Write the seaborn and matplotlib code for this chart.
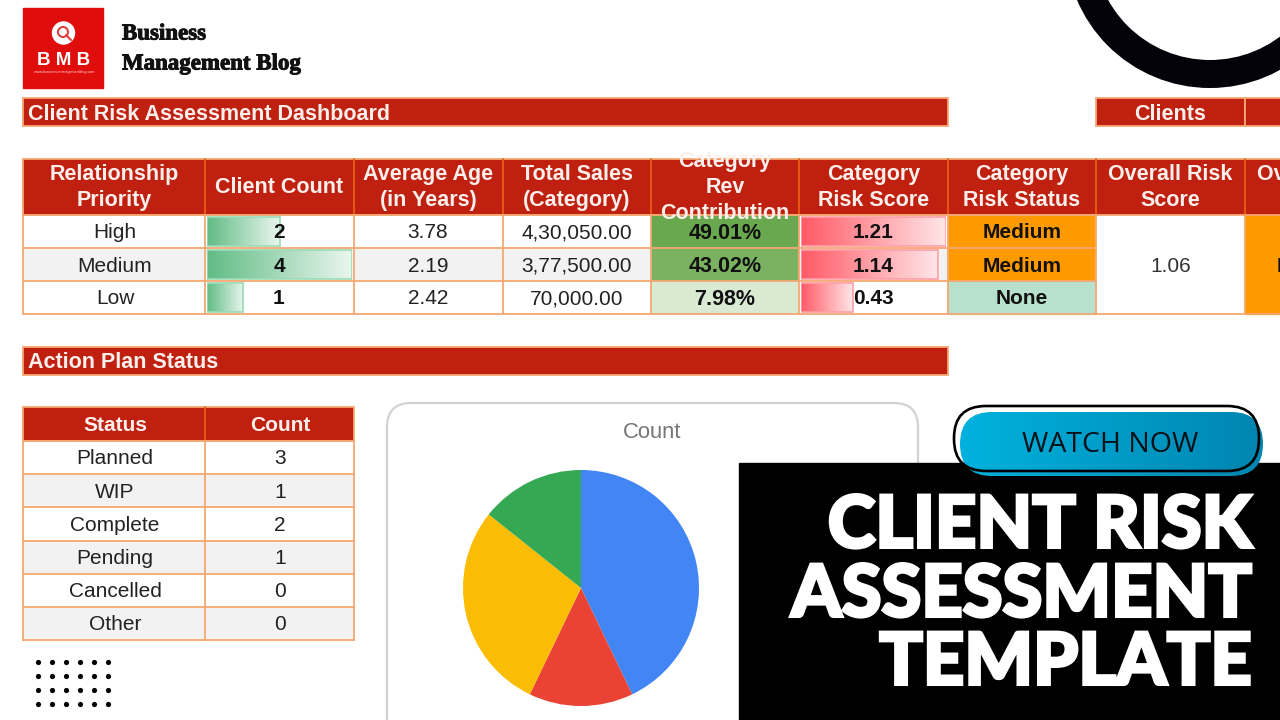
#! /usr/bin/env python3

import matplotlib
matplotlib.use('Agg')

import matplotlib.patheffects as pe
import matplotlib.pyplot as plt
from matplotlib.colors import LinearSegmentedColormap
from matplotlib.patches import Circle, FancyBboxPatch, Rectangle
import numpy as np
import pandas as pd
import seaborn as sns

priorities = ['High', 'Medium', 'Low']
client_counts = [2, 4, 1]
average_ages = ['3.78', '2.19', '2.42']
total_sales = ['4,30,050.00', '3,77,500.00', '70,000.00']
rev_contribution = [49.01, 43.02, 7.98]
risk_scores = [1.21, 1.14, 0.43]
risk_status = ['Medium', 'Medium', 'None']
overall_score = '1.06'
overall_status = 'Medium'

table_headers = ['Relationship\nPriority', 'Client Count', 'Average Age\n(in Years)',
                 'Total Sales\n(Category)', 'Category\nRev\nContribution', 'Category\nRisk Score',
                 'Category\nRisk Status', 'Overall Risk\nScore', 'Overall Risk\nStatus']

plan_status = ['Planned', 'WIP', 'Complete', 'Pending', 'Cancelled', 'Other']
plan_count = [3, 1, 2, 1, 0, 0]
pie_colors = ['#4285F4', '#EA4335', '#FBBC04', '#34A853', '#FF6D01', '#46BDC6']

RED = '#C0200F'
DEEP = '#E8600F'
LINE = '#F6A772'
GREY = '#F2F2F2'
ORANGE = '#FF9900'
MINT = '#B7E1CD'
W, H = 1280, 720
FONT = 'Liberation Sans'

sns.set_theme(style='white')
plt.rcParams['font.family'] = [FONT, 'DejaVu Sans']

fig = plt.figure(figsize=(12.8, 7.2), dpi=100, facecolor='white')


def px_axes(x0, y0, x1, y1, zorder):
    ax = fig.add_axes([x0 / W, 1 - y1 / H, (x1 - x0) / W, (y1 - y0) / H], zorder=zorder)
    ax.patch.set_alpha(0)
    return ax


def data_bars(values, x0, x1, vmax, left_col, right_col, edge):
    ax = px_axes(x0, 215, x1, 314, 1)
    frame = pd.DataFrame({'row': priorities, 'value': values})
    sns.barplot(data=frame, x='value', y='row', ax=ax, width=0.86, color='white')
    cmap = LinearSegmentedColormap.from_list('bar', [left_col, right_col])
    for bar in ax.patches:
        box = bar.get_bbox()
        img = ax.imshow(np.linspace(0, 1, 128)[None, :], cmap=cmap, aspect='auto',
                        extent=(box.x0, box.x1, box.y1, box.y0), zorder=2)
        img.set_clip_path(bar)
        ax.add_patch(Rectangle((box.x0, box.y0), box.width, box.height, fill=False,
                               edgecolor=edge, linewidth=1.2, zorder=3))
    ax.set_xlim(0, vmax)
    ax.set_ylim(2.5, -0.5)
    ax.axis('off')
    return ax


# base layer: cell fills and the card behind the pie
base = px_axes(0, 0, W, H, 0)
base.set_xlim(0, W)
base.set_ylim(H, 0)
base.axis('off')

col_edges = [23, 205, 354, 503, 651, 799, 948, 1096, 1245, 1393]
row_edges = [215, 248, 281, 314]
for r in range(3):
    base.add_patch(Rectangle((23, row_edges[r]), 1222, 33, color=GREY if r == 1 else 'white'))
for r, status in enumerate(risk_status):
    base.add_patch(Rectangle((948, row_edges[r]), 148, 33, color=ORANGE if status == 'Medium' else MINT))
base.add_patch(Rectangle((1096, 215), 149, 99, color='white'))
base.add_patch(Rectangle((1245, 215), 148, 99, color=ORANGE))

plan_edges = [441 + 33.2 * i for i in range(7)]
for r in range(6):
    base.add_patch(Rectangle((23, plan_edges[r]), 331, 33.2, color=GREY if r % 2 else 'white'))

base.add_patch(FancyBboxPatch((387, 403), 531, 400, boxstyle='round,pad=0,rounding_size=24',
                              facecolor='white', edgecolor='#D2D2D2', linewidth=1.6))
base.text(652, 432.5, 'Count', ha='center', va='center', fontsize=15.8, color='#757575')

# data layers
data_bars(client_counts, 207, 352, 4, '#62BC85', '#E9F6EE', '#9ADBB5')
data_bars(risk_scores, 801, 946, 1.21, '#FF5A66', '#FFE6E8', '#FF9DA5')

ax_rev = px_axes(651, 215, 799, 314, 1)
rev_frame = pd.DataFrame({'rev': rev_contribution}, index=priorities)
rev_cmap = LinearSegmentedColormap.from_list('rev', ['#D9EAD3', '#6AA84F'])
rev_labels = np.array([[f'{v:.2f}%'] for v in rev_contribution])
sns.heatmap(rev_frame, ax=ax_rev, cmap=rev_cmap, cbar=False, annot=rev_labels, fmt='',
            annot_kws={'fontsize': 15.5, 'fontweight': 'bold', 'color': '#111111'},
            xticklabels=False, yticklabels=False)
ax_rev.set_ylabel('')
for t in ax_rev.texts:
    t.set_y(t.get_position()[1] + 0.06)
ax_pie = px_axes(463, 470, 699, 706, 1)
ax_pie.pie(plan_count, colors=pie_colors, startangle=90, counterclock=False, radius=1.0,
           wedgeprops={'linewidth': 0})
ax_pie.set_xlim(-1, 1)
ax_pie.set_ylim(-1, 1)

# top layer: bands, header, grid lines, cell text and the banner
top = px_axes(0, 0, W, H, 2)
top.set_xlim(0, W)
top.set_ylim(H, 0)
top.axis('off')


def band(x0, y0, x1, y1, label='', center=False):
    top.add_patch(Rectangle((x0, y0), x1 - x0, y1 - y0, facecolor=RED, edgecolor=LINE, linewidth=1.3))
    if label:
        tx = (x0 + x1) / 2 if center else x0 + 5
        top.text(tx, (y0 + y1) / 2 + 2, label, ha='center' if center else 'left', va='center',
                 fontsize=15.5, fontweight='bold', color='#FBEFEC')


band(23, 98, 948, 126, 'Client Risk Assessment Dashboard')
band(1096, 98, 1245, 126, 'Clients', center=True)
band(1245, 98, 1300, 126)
band(23, 347, 948, 375, 'Action Plan Status')

top.add_patch(Rectangle((23, 159), 1300, 56, facecolor=RED, edgecolor=LINE, linewidth=1.3))
for i, label in enumerate(table_headers):
    x0, x1 = col_edges[i], col_edges[i + 1]
    if i:
        top.plot([x0, x0], [159, 215], color=DEEP, lw=1.3)
    txt = top.text((x0 + x1) / 2, 187.5, label, ha='center', va='center', fontsize=15.5,
                   fontweight='bold', color='#FBEFEC', linespacing=1.34)
    txt.set_clip_path(Rectangle((x0, 159), x1 - x0, 56, transform=top.transData))

for y in row_edges:
    top.plot([23, 1096], [y, y], color=LINE, lw=1.3)
top.plot([1096, 1300], [314, 314], color=LINE, lw=1.3)
for x in col_edges[:-1]:
    top.plot([x, x], [215, 314], color=LINE, lw=1.3)

for r, y in enumerate([233, 266, 299]):
    top.text(115, y, priorities[r], ha='center', va='center', fontsize=15, color='#222222')
    top.text(279, y, str(client_counts[r]), ha='center', va='center', fontsize=15, fontweight='bold', color='#111111')
    top.text(428, y, average_ages[r], ha='center', va='center', fontsize=15, color='#222222')
    top.text(577, y, total_sales[r], ha='center', va='center', fontsize=15, color='#222222')
    top.text(873.5, y, f'{risk_scores[r]:.2f}', ha='center', va='center', fontsize=15, fontweight='bold', color='#111111')
    top.text(1022, y, risk_status[r], ha='center', va='center', fontsize=15, fontweight='bold', color='#111111')
top.text(1171, 266, overall_score, ha='center', va='center', fontsize=15, color='#333333')
top.text(1316, 266, overall_status, ha='center', va='center', fontsize=15, fontweight='bold', color='#111111')

# action plan table
top.add_patch(Rectangle((23, 407), 331, 34, facecolor=RED, edgecolor=LINE, linewidth=1.3))
top.plot([205, 205], [407, 441], color=DEEP, lw=1.3)
top.text(115, 425.5, 'Status', ha='center', va='center', fontsize=15, fontweight='bold', color='#FBEFEC')
top.text(280, 425.5, 'Count', ha='center', va='center', fontsize=15, fontweight='bold', color='#FBEFEC')
for y in plan_edges:
    top.plot([23, 354], [y, y], color=LINE, lw=1.3)
for x in [23, 205, 354]:
    top.plot([x, x], [441, 640], color=LINE, lw=1.3)
for r, status in enumerate(plan_status):
    yc = plan_edges[r] + 18
    top.text(115, yc, status, ha='center', va='center', fontsize=15, color='#222222')
    top.text(280, yc, str(plan_count[r]), ha='center', va='center', fontsize=15, color='#222222')

# logo
top.add_patch(Rectangle((23, 8), 80, 80, color='#E00D0D'))
top.add_patch(Circle((63.5, 33), 11, color='white'))
top.add_patch(Circle((63, 32), 5, facecolor='none', edgecolor='#E04040', linewidth=1.5))
top.plot([66, 71], [35, 40], color='#E04040', lw=1.5)
top.text(64, 60.5, 'B M B', ha='center', va='center', fontsize=13.5, fontweight='bold', color='white')
top.text(64, 72.5, 'www.business-managementblog.com', ha='center', va='center', fontsize=2.6, color='#FFD0D0')
heavy = [pe.withStroke(linewidth=0.7, foreground='#111111')]
top.text(122, 34, 'Business', ha='left', va='center', fontsize=16.5, fontweight='bold',
         family='Liberation Serif', color='#111111', path_effects=heavy)
top.text(122, 64, 'Management Blog', ha='left', va='center', fontsize=16.5, fontweight='bold',
         family='Liberation Serif', color='#111111', path_effects=heavy)

# corner ring
top.add_patch(Circle((1210, -56.5), 130.5, fill=False, edgecolor='#020208', linewidth=28 * 72 / 100))

# dot grid
dot_x, dot_y = np.meshgrid(np.arange(38, 109, 14), np.arange(662, 705, 14))
top.scatter(dot_x.ravel(), dot_y.ravel(), s=14, color='black', linewidths=0)

# banner
top.add_patch(Rectangle((739, 463), 541, 257, color='black', zorder=3))
pill = FancyBboxPatch((960, 412), 303, 64, boxstyle='round,pad=0,rounding_size=32',
                      facecolor='none', edgecolor='none', zorder=4)
top.add_patch(pill)
pill_cmap = LinearSegmentedColormap.from_list('pill', ['#00B2DE', '#0085B0'])
grad = top.imshow(np.linspace(0, 1, 256)[None, :], cmap=pill_cmap, aspect='auto',
                  extent=(960, 1263, 476, 412), zorder=4)
grad.set_clip_path(pill)
top.set_xlim(0, W)
top.set_ylim(H, 0)
top.add_patch(FancyBboxPatch((954, 406), 305, 65, boxstyle='round,pad=0,rounding_size=32',
                             facecolor='none', edgecolor='black', linewidth=1.9, zorder=5))
top.text(1110, 445, 'WATCH NOW', ha='center', va='center', fontsize=20.5, family='Open Sans',
         color='#06121A', zorder=6)
bold_title = [pe.withStroke(linewidth=2.2, foreground='white', joinstyle='miter')]
for label, y in [('CLIENT RISK', 527), ('ASSESSMENT', 596), ('TEMPLATE', 664)]:
    top.text(1252, y, label, ha='right', va='center', fontsize=52, fontweight='black',
             family='Lato', color='white', zorder=6, path_effects=bold_title)

fig.savefig('out.png', dpi=100)
